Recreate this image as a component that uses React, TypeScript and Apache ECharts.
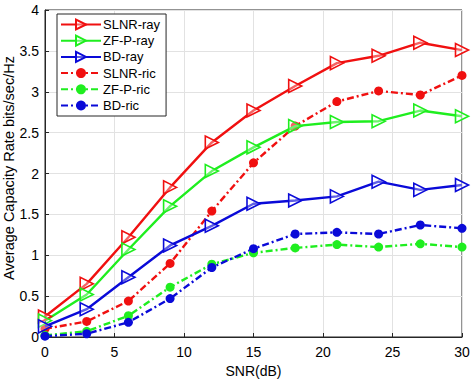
import React, { useEffect, useRef } from "react";
import * as echarts from "echarts";

const snr = [0, 3, 6, 9, 12, 15, 18, 21, 24, 27, 30];
const slnrRay = [0.25, 0.65, 1.22, 1.83, 2.38, 2.77, 3.07, 3.35, 3.44, 3.6, 3.51];
const zfpRay = [0.2, 0.52, 1.07, 1.6, 2.03, 2.32, 2.58, 2.63, 2.64, 2.77, 2.7];
const bdRay = [0.13, 0.34, 0.73, 1.12, 1.36, 1.63, 1.67, 1.72, 1.9, 1.8, 1.86];
const slnrRic = [0.1, 0.19, 0.44, 0.9, 1.54, 2.13, 2.58, 2.88, 3.01, 2.96, 3.2];
const zfpRic = [0.02, 0.07, 0.26, 0.61, 0.89, 1.03, 1.09, 1.13, 1.1, 1.14, 1.1];
const bdRic = [0.01, 0.04, 0.18, 0.47, 0.85, 1.08, 1.26, 1.28, 1.26, 1.37, 1.33];

const names = ["SLNR-ray", "ZF-P-ray", "BD-ray", "SLNR-ric", "ZF-P-ric", "BD-ric"];
const yTitle = "Average Capacity Rate bits/sec/Hz";
const xTitle = "SNR(dB)";
const RED = "#f01010";
const GREEN = "#1fee1f";
const BLUE = "#0a0ad8";

export default function App() {
  const ref = useRef<HTMLDivElement>(null);
  useEffect(() => {
    const chart = echarts.init(ref.current!, null, { renderer: "svg" });
    const font = "Liberation Sans, Arial, sans-serif";
    const ray = (name: string, color: string, data: number[]) => ({
      name,
      type: "line",
      data: snr.map((x, i) => [x, data[i]]),
      symbol: "triangle",
      symbolRotate: -90,
      symbolSize: 13,
      lineStyle: { color, width: 2.4, type: "solid" },
      itemStyle: { color: "rgba(255,255,255,0.35)", borderColor: color, borderWidth: 1.6 },
      z: 3,
    });
    const ric = (name: string, color: string, data: number[]) => ({
      name,
      type: "line",
      data: snr.map((x, i) => [x, data[i]]),
      symbol: "circle",
      symbolSize: 9,
      lineStyle: { color, width: 2.4, type: [7, 3, 2, 3] },
      itemStyle: { color, borderColor: color, borderWidth: 0 },
      z: 2,
    });
    chart.setOption({
      animation: false,
      backgroundColor: "#fff",
      textStyle: { fontFamily: font },
      grid: {
        left: 45,
        right: 12,
        top: 10,
        bottom: 45,
        containLabel: false,
        outerBoundsMode: "none",
        show: true,
        borderColor: "#262626",
        borderWidth: 1,
      },
      graphic: [
        {
          type: "text",
          x: 9,
          y: 168,
          rotation: Math.PI / 2,
          style: {
            text: yTitle,
            fontSize: 14.5,
            fontFamily: font,
            fill: "#000",
            align: "center",
            verticalAlign: "middle",
          },
        },
      ],
      legend: {
        orient: "vertical",
        left: 57,
        top: 14,
        width: 100,
        padding: [4, 6, 4, 3],
        itemGap: 3.2,
        itemWidth: 40,
        itemHeight: 12.5,
        backgroundColor: "#fff",
        borderColor: "#262626",
        borderWidth: 1,
        borderRadius: 0,
        textStyle: { fontSize: 13, color: "#000", fontFamily: font, padding: [0, 0, 0, -3] },
        data: names,
      },
      xAxis: {
        type: "value",
        min: 0,
        max: 30,
        interval: 5,
        name: xTitle,
        nameLocation: "middle",
        nameGap: 26,
        nameTextStyle: { fontSize: 14, color: "#000", fontFamily: font },
        axisLine: { show: true, lineStyle: { color: "#262626" } },
        axisTick: { show: true, inside: true, length: 4, lineStyle: { color: "#262626" } },
        axisLabel: { fontSize: 14, color: "#000", margin: 8, fontFamily: font },
        splitLine: { show: true, lineStyle: { color: "#e2e2e2", width: 1 } },
      },
      yAxis: {
        type: "value",
        min: 0,
        max: 4,
        interval: 0.5,
        axisLine: { show: true, lineStyle: { color: "#262626" } },
        axisTick: { show: true, inside: true, length: 4, lineStyle: { color: "#262626" } },
        axisLabel: { fontSize: 14, color: "#000", margin: 6, fontFamily: font },
        splitLine: { show: true, lineStyle: { color: "#e2e2e2", width: 1 } },
      },
      series: [
        ray(names[0], RED, slnrRay),
        ray(names[1], GREEN, zfpRay),
        ray(names[2], BLUE, bdRay),
        ric(names[3], RED, slnrRic),
        ric(names[4], GREEN, zfpRic),
        ric(names[5], BLUE, bdRic),
      ],
    });
    return () => chart.dispose();
  }, []);
  return (
    <div
      ref={ref}
      style={{ width: 474, height: 382, position: "absolute", left: 0, top: 0 }}
    />
  );
}
